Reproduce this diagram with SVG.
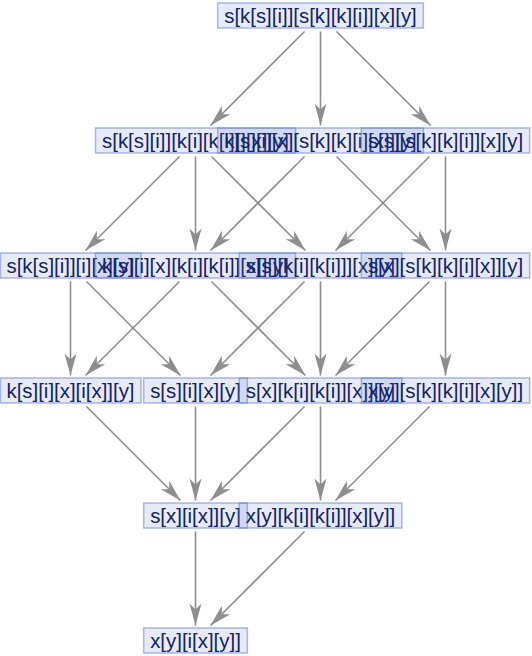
<svg xmlns="http://www.w3.org/2000/svg" width="532" height="656" viewBox="0 0 532 656">
<style>
.box{fill:rgb(75,110,200);fill-opacity:0.14;stroke:rgb(100,130,215);stroke-opacity:0.55;stroke-width:1.5}
.lbl{font-family:"Liberation Sans",Arial,sans-serif;font-size:20.4px;fill:#13226b;text-anchor:middle}
.e{stroke:#8e8e8e;stroke-width:1.6;fill:none;marker-end:url(#ah)}
</style>
<defs>
<marker id="ah" markerUnits="userSpaceOnUse" viewBox="-23 -7 24 14" markerWidth="24" markerHeight="14" refX="0" refY="0" orient="auto" overflow="visible">
<path d="M0,0 L-22,-6 L-16,0 L-22,6 Z" fill="#8e8e8e"/>
</marker>
</defs>
<g id="edges">
<line class="e" x1="304.5" y1="31.5" x2="210.5" y2="125.5"/>
<line class="e" x1="320.5" y1="31.5" x2="320.5" y2="125.5"/>
<line class="e" x1="336.5" y1="31.5" x2="430.5" y2="125.5"/>
<line class="e" x1="179.5" y1="156.5" x2="85.5" y2="250.5"/>
<line class="e" x1="195.5" y1="156.5" x2="195.5" y2="250.5"/>
<line class="e" x1="211.5" y1="156.5" x2="305.5" y2="250.5"/>
<line class="e" x1="304.5" y1="156.5" x2="210.5" y2="250.5"/>
<line class="e" x1="336.5" y1="156.5" x2="430.5" y2="250.5"/>
<line class="e" x1="429.5" y1="156.5" x2="335.5" y2="250.5"/>
<line class="e" x1="445.5" y1="156.5" x2="445.5" y2="250.5"/>
<line class="e" x1="70.5" y1="281.5" x2="70.5" y2="375.5"/>
<line class="e" x1="86.5" y1="281.5" x2="180.5" y2="375.5"/>
<line class="e" x1="179.5" y1="281.5" x2="85.5" y2="375.5"/>
<line class="e" x1="211.5" y1="281.5" x2="305.5" y2="375.5"/>
<line class="e" x1="304.5" y1="281.5" x2="210.5" y2="375.5"/>
<line class="e" x1="320.5" y1="281.5" x2="320.5" y2="375.5"/>
<line class="e" x1="429.5" y1="281.5" x2="335.5" y2="375.5"/>
<line class="e" x1="445.5" y1="281.5" x2="445.5" y2="375.5"/>
<line class="e" x1="86.5" y1="406.5" x2="180.5" y2="500.5"/>
<line class="e" x1="195.5" y1="406.5" x2="195.5" y2="500.5"/>
<line class="e" x1="304.5" y1="406.5" x2="210.5" y2="500.5"/>
<line class="e" x1="320.5" y1="406.5" x2="320.5" y2="500.5"/>
<line class="e" x1="429.5" y1="406.5" x2="335.5" y2="500.5"/>
<line class="e" x1="195.5" y1="531.5" x2="195.5" y2="625.5"/>
<line class="e" x1="304.5" y1="531.5" x2="210.5" y2="625.5"/>
</g>
<g id="n0"><rect class="box" x="217.65" y="3" width="205.7" height="25"/><text class="lbl" x="320.5" y="22.5">s[k[s][i]][s[k][k][i]][x][y]</text></g>
<g id="n1a"><rect class="box" x="95.5" y="128" width="200" height="25"/><text class="lbl" x="195.5" y="147.5">s[k[s][i]][k[i][k[i]]][x][y]</text></g>
<g id="n1b"><rect class="box" x="217.65" y="128" width="205.7" height="25"/><text class="lbl" x="320.5" y="147.5">k[s][i][x][s[k][k][i][x]][y]</text></g>
<g id="n1c"><rect class="box" x="361.37" y="128" width="168.27" height="25"/><text class="lbl" x="445.5" y="147.5">s[s][s[k][k][i]][x][y]</text></g>
<g id="n2a"><rect class="box" x="0.5" y="253" width="140.5" height="25"/><text class="lbl" x="70.5" y="272.5">s[k[s][i]][i][x][y]</text></g>
<g id="n2b"><rect class="box" x="95.5" y="253" width="200" height="25"/><text class="lbl" x="195.5" y="272.5">k[s][i][x][k[i][k[i]][x]][y]</text></g>
<g id="n2c"><rect class="box" x="239.2" y="253" width="162.6" height="25"/><text class="lbl" x="320.5" y="272.5">s[s][k[i][k[i]]][x][y]</text></g>
<g id="n2d"><rect class="box" x="361.37" y="253" width="168.27" height="25"/><text class="lbl" x="445.5" y="272.5">s[x][s[k][k][i][x]][y]</text></g>
<g id="n3a"><rect class="box" x="0.5" y="378" width="140.5" height="25"/><text class="lbl" x="70.5" y="397.5">k[s][i][x][i[x]][y]</text></g>
<g id="n3b"><rect class="box" x="143.67" y="378" width="103.67" height="25"/><text class="lbl" x="195.5" y="397.5">s[s][i][x][y]</text></g>
<g id="n3c"><rect class="box" x="239.2" y="378" width="162.6" height="25"/><text class="lbl" x="320.5" y="397.5">s[x][k[i][k[i]][x]][y]</text></g>
<g id="n3d"><rect class="box" x="361.37" y="378" width="168.27" height="25"/><text class="lbl" x="445.5" y="397.5">x[y][s[k][k][i][x][y]]</text></g>
<g id="n4a"><rect class="box" x="143.67" y="503" width="103.67" height="25"/><text class="lbl" x="195.5" y="522.5">s[x][i[x]][y]</text></g>
<g id="n4b"><rect class="box" x="239.2" y="503" width="162.6" height="25"/><text class="lbl" x="320.5" y="522.5">x[y][k[i][k[i]][x][y]]</text></g>
<g id="n5"><rect class="box" x="143.67" y="628" width="103.67" height="25"/><text class="lbl" x="195.5" y="647.5">x[y][i[x][y]]</text></g>
</svg>
